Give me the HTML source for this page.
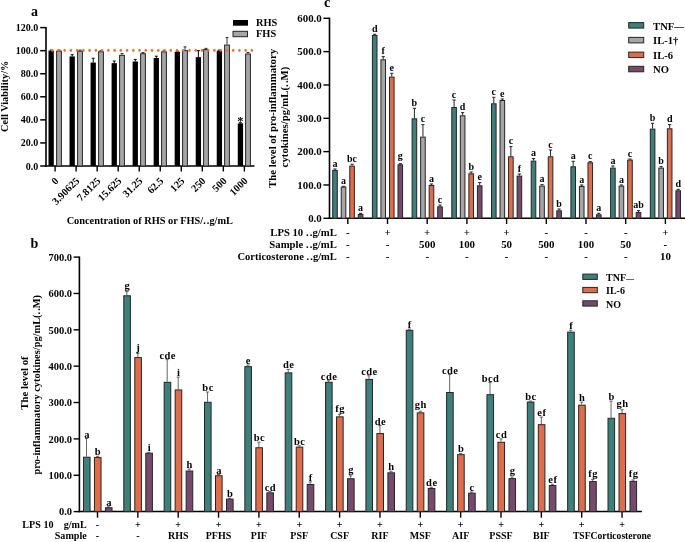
<!DOCTYPE html>
<html><head><meta charset="utf-8"><style>
html,body{margin:0;padding:0;background:#fff;width:685px;height:542px;overflow:hidden}
svg{display:block;will-change:transform}
text{font-family:"Liberation Serif", serif;font-weight:bold;fill:#000}
</style></head><body>
<svg width="685" height="542" viewBox="0 0 685 542">
<text x="31.00" y="16.00" font-size="14" text-anchor="start" >a</text>
<line x1="46.00" y1="27.00" x2="46.00" y2="166.75" stroke="#000" stroke-width="1.6"/>
<line x1="40.20" y1="166.00" x2="46.00" y2="166.00" stroke="#000" stroke-width="1.5"/>
<text x="38.20" y="169.50" font-size="10" text-anchor="end" >0.0</text>
<line x1="40.20" y1="142.93" x2="46.00" y2="142.93" stroke="#000" stroke-width="1.5"/>
<text x="38.20" y="146.43" font-size="10" text-anchor="end" >20.0</text>
<line x1="40.20" y1="119.87" x2="46.00" y2="119.87" stroke="#000" stroke-width="1.5"/>
<text x="38.20" y="123.37" font-size="10" text-anchor="end" >40.0</text>
<line x1="40.20" y1="96.80" x2="46.00" y2="96.80" stroke="#000" stroke-width="1.5"/>
<text x="38.20" y="100.30" font-size="10" text-anchor="end" >60.0</text>
<line x1="40.20" y1="73.74" x2="46.00" y2="73.74" stroke="#000" stroke-width="1.5"/>
<text x="38.20" y="77.24" font-size="10" text-anchor="end" >80.0</text>
<line x1="40.20" y1="50.67" x2="46.00" y2="50.67" stroke="#000" stroke-width="1.5"/>
<text x="38.20" y="54.17" font-size="10" text-anchor="end" >100.0</text>
<line x1="40.20" y1="27.60" x2="46.00" y2="27.60" stroke="#000" stroke-width="1.5"/>
<text x="38.20" y="31.10" font-size="10" text-anchor="end" >120.0</text>
<line x1="45.20" y1="166.00" x2="254.50" y2="166.00" stroke="#000" stroke-width="1.5"/>
<line x1="55.10" y1="166.00" x2="55.10" y2="171.50" stroke="#000" stroke-width="1.4"/>
<line x1="51.15" y1="50.09" x2="51.15" y2="50.67" stroke="#000" stroke-width="1"/>
<line x1="49.65" y1="50.09" x2="52.65" y2="50.09" stroke="#000" stroke-width="1"/>
<rect x="48.50" y="50.67" width="5.30" height="115.33" fill="#000"/>
<line x1="59.00" y1="50.09" x2="59.00" y2="50.67" stroke="#333" stroke-width="1"/>
<line x1="57.50" y1="50.09" x2="60.50" y2="50.09" stroke="#333" stroke-width="1"/>
<rect x="56.60" y="51.17" width="4.80" height="114.83" fill="#a6a6a9" stroke="#262626" stroke-width="1"/>
<text x="59.10" y="181.50" font-size="10.4" text-anchor="end" transform="rotate(-45 59.10 181.50)">0</text>
<line x1="76.13" y1="166.00" x2="76.13" y2="171.50" stroke="#000" stroke-width="1.4"/>
<line x1="72.18" y1="54.71" x2="72.18" y2="56.44" stroke="#000" stroke-width="1"/>
<line x1="70.68" y1="54.71" x2="73.68" y2="54.71" stroke="#000" stroke-width="1"/>
<rect x="69.53" y="56.44" width="5.30" height="109.56" fill="#000"/>
<line x1="80.00" y1="50.09" x2="80.00" y2="50.67" stroke="#333" stroke-width="1"/>
<line x1="78.50" y1="50.09" x2="81.50" y2="50.09" stroke="#333" stroke-width="1"/>
<rect x="77.60" y="51.17" width="4.80" height="114.83" fill="#a6a6a9" stroke="#262626" stroke-width="1"/>
<text x="80.13" y="181.50" font-size="10.4" text-anchor="end" transform="rotate(-45 80.13 181.50)">3.90625</text>
<line x1="97.16" y1="166.00" x2="97.16" y2="171.50" stroke="#000" stroke-width="1.4"/>
<line x1="93.21" y1="58.28" x2="93.21" y2="62.55" stroke="#000" stroke-width="1"/>
<line x1="91.71" y1="58.28" x2="94.71" y2="58.28" stroke="#000" stroke-width="1"/>
<rect x="90.56" y="62.55" width="5.30" height="103.45" fill="#000"/>
<line x1="101.00" y1="50.67" x2="101.00" y2="51.25" stroke="#333" stroke-width="1"/>
<line x1="99.50" y1="50.67" x2="102.50" y2="50.67" stroke="#333" stroke-width="1"/>
<rect x="98.60" y="51.75" width="4.80" height="114.25" fill="#a6a6a9" stroke="#262626" stroke-width="1"/>
<text x="101.16" y="181.50" font-size="10.4" text-anchor="end" transform="rotate(-45 101.16 181.50)">7.8125</text>
<line x1="118.19" y1="166.00" x2="118.19" y2="171.50" stroke="#000" stroke-width="1.4"/>
<line x1="114.24" y1="61.05" x2="114.24" y2="63.13" stroke="#000" stroke-width="1"/>
<line x1="112.74" y1="61.05" x2="115.74" y2="61.05" stroke="#000" stroke-width="1"/>
<rect x="111.59" y="63.13" width="5.30" height="102.87" fill="#000"/>
<line x1="122.00" y1="53.55" x2="122.00" y2="54.82" stroke="#333" stroke-width="1"/>
<line x1="120.50" y1="53.55" x2="123.50" y2="53.55" stroke="#333" stroke-width="1"/>
<rect x="119.60" y="55.32" width="4.80" height="110.68" fill="#a6a6a9" stroke="#262626" stroke-width="1"/>
<text x="122.19" y="181.50" font-size="10.4" text-anchor="end" transform="rotate(-45 122.19 181.50)">15.625</text>
<line x1="139.22" y1="166.00" x2="139.22" y2="171.50" stroke="#000" stroke-width="1.4"/>
<line x1="135.27" y1="59.44" x2="135.27" y2="61.51" stroke="#000" stroke-width="1"/>
<line x1="133.77" y1="59.44" x2="136.77" y2="59.44" stroke="#000" stroke-width="1"/>
<rect x="132.62" y="61.51" width="5.30" height="104.49" fill="#000"/>
<line x1="143.00" y1="52.52" x2="143.00" y2="53.21" stroke="#333" stroke-width="1"/>
<line x1="141.50" y1="52.52" x2="144.50" y2="52.52" stroke="#333" stroke-width="1"/>
<rect x="140.60" y="53.71" width="4.80" height="112.29" fill="#a6a6a9" stroke="#262626" stroke-width="1"/>
<text x="143.22" y="181.50" font-size="10.4" text-anchor="end" transform="rotate(-45 143.22 181.50)">31.25</text>
<line x1="160.25" y1="166.00" x2="160.25" y2="171.50" stroke="#000" stroke-width="1.4"/>
<line x1="156.30" y1="56.21" x2="156.30" y2="58.05" stroke="#000" stroke-width="1"/>
<line x1="154.80" y1="56.21" x2="157.80" y2="56.21" stroke="#000" stroke-width="1"/>
<rect x="153.65" y="58.05" width="5.30" height="107.95" fill="#000"/>
<line x1="164.00" y1="50.67" x2="164.00" y2="51.36" stroke="#333" stroke-width="1"/>
<line x1="162.50" y1="50.67" x2="165.50" y2="50.67" stroke="#333" stroke-width="1"/>
<rect x="161.60" y="51.86" width="4.80" height="114.14" fill="#a6a6a9" stroke="#262626" stroke-width="1"/>
<text x="164.25" y="181.50" font-size="10.4" text-anchor="end" transform="rotate(-45 164.25 181.50)">62.5</text>
<line x1="181.28" y1="166.00" x2="181.28" y2="171.50" stroke="#000" stroke-width="1.4"/>
<line x1="177.33" y1="51.13" x2="177.33" y2="51.82" stroke="#000" stroke-width="1"/>
<line x1="175.83" y1="51.13" x2="178.83" y2="51.13" stroke="#000" stroke-width="1"/>
<rect x="174.68" y="51.82" width="5.30" height="114.18" fill="#000"/>
<line x1="185.00" y1="46.86" x2="185.00" y2="50.09" stroke="#333" stroke-width="1"/>
<line x1="183.50" y1="46.86" x2="186.50" y2="46.86" stroke="#333" stroke-width="1"/>
<rect x="182.60" y="50.59" width="4.80" height="115.41" fill="#a6a6a9" stroke="#262626" stroke-width="1"/>
<text x="185.28" y="181.50" font-size="10.4" text-anchor="end" transform="rotate(-45 185.28 181.50)">125</text>
<line x1="202.31" y1="166.00" x2="202.31" y2="171.50" stroke="#000" stroke-width="1.4"/>
<line x1="198.36" y1="50.67" x2="198.36" y2="57.13" stroke="#000" stroke-width="1"/>
<line x1="196.86" y1="50.67" x2="199.86" y2="50.67" stroke="#000" stroke-width="1"/>
<rect x="195.71" y="57.13" width="5.30" height="108.87" fill="#000"/>
<line x1="206.00" y1="48.36" x2="206.00" y2="49.06" stroke="#333" stroke-width="1"/>
<line x1="204.50" y1="48.36" x2="207.50" y2="48.36" stroke="#333" stroke-width="1"/>
<rect x="203.60" y="49.56" width="4.80" height="116.44" fill="#a6a6a9" stroke="#262626" stroke-width="1"/>
<text x="206.31" y="181.50" font-size="10.4" text-anchor="end" transform="rotate(-45 206.31 181.50)">250</text>
<line x1="223.34" y1="166.00" x2="223.34" y2="171.50" stroke="#000" stroke-width="1.4"/>
<line x1="219.39" y1="50.09" x2="219.39" y2="50.67" stroke="#000" stroke-width="1"/>
<line x1="217.89" y1="50.09" x2="220.89" y2="50.09" stroke="#000" stroke-width="1"/>
<rect x="216.74" y="50.67" width="5.30" height="115.33" fill="#000"/>
<line x1="227.00" y1="37.52" x2="227.00" y2="44.56" stroke="#333" stroke-width="1"/>
<line x1="225.50" y1="37.52" x2="228.50" y2="37.52" stroke="#333" stroke-width="1"/>
<rect x="224.60" y="45.06" width="4.80" height="120.94" fill="#a6a6a9" stroke="#262626" stroke-width="1"/>
<text x="227.34" y="181.50" font-size="10.4" text-anchor="end" transform="rotate(-45 227.34 181.50)">500</text>
<line x1="244.37" y1="166.00" x2="244.37" y2="171.50" stroke="#000" stroke-width="1.4"/>
<line x1="240.42" y1="122.75" x2="240.42" y2="123.33" stroke="#000" stroke-width="1"/>
<line x1="238.92" y1="122.75" x2="241.92" y2="122.75" stroke="#000" stroke-width="1"/>
<rect x="237.77" y="123.33" width="5.30" height="42.67" fill="#000"/>
<line x1="248.00" y1="52.52" x2="248.00" y2="53.55" stroke="#333" stroke-width="1"/>
<line x1="246.50" y1="52.52" x2="249.50" y2="52.52" stroke="#333" stroke-width="1"/>
<rect x="245.60" y="54.05" width="4.80" height="111.95" fill="#a6a6a9" stroke="#262626" stroke-width="1"/>
<text x="248.37" y="181.50" font-size="10.4" text-anchor="end" transform="rotate(-45 248.37 181.50)">1000</text>
<circle cx="52.20" cy="50.4" r="1.3" fill="#f26d21"/>
<circle cx="58.44" cy="50.4" r="1.3" fill="#f26d21"/>
<circle cx="64.68" cy="50.4" r="1.3" fill="#f26d21"/>
<circle cx="70.92" cy="50.4" r="1.3" fill="#f26d21"/>
<circle cx="77.16" cy="50.4" r="1.3" fill="#f26d21"/>
<circle cx="83.40" cy="50.4" r="1.3" fill="#f26d21"/>
<circle cx="89.64" cy="50.4" r="1.3" fill="#f26d21"/>
<circle cx="95.88" cy="50.4" r="1.3" fill="#f26d21"/>
<circle cx="102.12" cy="50.4" r="1.3" fill="#f26d21"/>
<circle cx="108.36" cy="50.4" r="1.3" fill="#f26d21"/>
<circle cx="114.60" cy="50.4" r="1.3" fill="#f26d21"/>
<circle cx="120.84" cy="50.4" r="1.3" fill="#f26d21"/>
<circle cx="127.08" cy="50.4" r="1.3" fill="#f26d21"/>
<circle cx="133.32" cy="50.4" r="1.3" fill="#f26d21"/>
<circle cx="139.56" cy="50.4" r="1.3" fill="#f26d21"/>
<circle cx="145.80" cy="50.4" r="1.3" fill="#f26d21"/>
<circle cx="152.04" cy="50.4" r="1.3" fill="#f26d21"/>
<circle cx="158.28" cy="50.4" r="1.3" fill="#f26d21"/>
<circle cx="164.52" cy="50.4" r="1.3" fill="#f26d21"/>
<circle cx="170.76" cy="50.4" r="1.3" fill="#f26d21"/>
<circle cx="177.00" cy="50.4" r="1.3" fill="#f26d21"/>
<circle cx="183.24" cy="50.4" r="1.3" fill="#f26d21"/>
<circle cx="189.48" cy="50.4" r="1.3" fill="#f26d21"/>
<circle cx="195.72" cy="50.4" r="1.3" fill="#f26d21"/>
<circle cx="201.96" cy="50.4" r="1.3" fill="#f26d21"/>
<circle cx="208.20" cy="50.4" r="1.3" fill="#f26d21"/>
<circle cx="214.44" cy="50.4" r="1.3" fill="#f26d21"/>
<circle cx="220.68" cy="50.4" r="1.3" fill="#f26d21"/>
<circle cx="226.92" cy="50.4" r="1.3" fill="#f26d21"/>
<circle cx="233.16" cy="50.4" r="1.3" fill="#f26d21"/>
<circle cx="239.40" cy="50.4" r="1.3" fill="#f26d21"/>
<circle cx="245.64" cy="50.4" r="1.3" fill="#f26d21"/>
<circle cx="251.88" cy="50.4" r="1.3" fill="#f26d21"/>
<text x="240.40" y="124.80" font-size="12.5" text-anchor="middle" >*</text>
<text x="149.80" y="224.00" font-size="10.35" text-anchor="middle" >Concentration of RHS or FHS/.<tspan dx="1">.</tspan>g/mL</text>
<text x="0" y="0" font-size="10.3" text-anchor="middle" transform="translate(7.5 96.3) rotate(-90)">Cell Viability/%</text>
<rect x="233.00" y="20.00" width="15.00" height="5.70" fill="#000"/>
<rect x="233.00" y="31.30" width="14.50" height="5.40" fill="#a6a6a9" stroke="#262626" stroke-width="1"/>
<text x="256.00" y="26.40" font-size="10.4" text-anchor="start" >RHS</text>
<text x="256.00" y="37.40" font-size="10.4" text-anchor="start" >FHS</text>
<text x="324.00" y="7.40" font-size="14.5" text-anchor="start" >c</text>
<line x1="329.50" y1="17.60" x2="329.50" y2="219.05" stroke="#000" stroke-width="1.6"/>
<line x1="323.40" y1="218.30" x2="329.50" y2="218.30" stroke="#000" stroke-width="1.4"/>
<text x="321.80" y="222.10" font-size="10.9" text-anchor="end" >0.0</text>
<line x1="323.40" y1="184.97" x2="329.50" y2="184.97" stroke="#000" stroke-width="1.4"/>
<text x="321.80" y="188.77" font-size="10.9" text-anchor="end" >100.0</text>
<line x1="323.40" y1="151.63" x2="329.50" y2="151.63" stroke="#000" stroke-width="1.4"/>
<text x="321.80" y="155.43" font-size="10.9" text-anchor="end" >200.0</text>
<line x1="323.40" y1="118.30" x2="329.50" y2="118.30" stroke="#000" stroke-width="1.4"/>
<text x="321.80" y="122.10" font-size="10.9" text-anchor="end" >300.0</text>
<line x1="323.40" y1="84.97" x2="329.50" y2="84.97" stroke="#000" stroke-width="1.4"/>
<text x="321.80" y="88.77" font-size="10.9" text-anchor="end" >400.0</text>
<line x1="323.40" y1="51.63" x2="329.50" y2="51.63" stroke="#000" stroke-width="1.4"/>
<text x="321.80" y="55.43" font-size="10.9" text-anchor="end" >500.0</text>
<line x1="323.40" y1="18.30" x2="329.50" y2="18.30" stroke="#000" stroke-width="1.4"/>
<text x="321.80" y="22.10" font-size="10.9" text-anchor="end" >600.0</text>
<line x1="328.70" y1="218.30" x2="685.00" y2="218.30" stroke="#000" stroke-width="1.5"/>
<line x1="347.80" y1="218.30" x2="347.80" y2="224.00" stroke="#000" stroke-width="1.4"/>
<line x1="335.00" y1="168.97" x2="335.00" y2="169.97" stroke="#222" stroke-width="1"/>
<line x1="333.40" y1="168.97" x2="336.60" y2="168.97" stroke="#222" stroke-width="1"/>
<rect x="332.70" y="170.47" width="4.60" height="47.83" fill="#3e7e7b" stroke="#262626" stroke-width="1"/>
<text x="335.00" y="166.77" font-size="10" text-anchor="middle" >a</text>
<line x1="343.53" y1="186.30" x2="343.53" y2="186.63" stroke="#222" stroke-width="1"/>
<line x1="341.93" y1="186.30" x2="345.13" y2="186.30" stroke="#222" stroke-width="1"/>
<rect x="341.23" y="187.13" width="4.60" height="31.17" fill="#a6a6a9" stroke="#262626" stroke-width="1"/>
<text x="343.53" y="184.10" font-size="10" text-anchor="middle" >a</text>
<line x1="352.07" y1="164.30" x2="352.07" y2="165.63" stroke="#222" stroke-width="1"/>
<line x1="350.47" y1="164.30" x2="353.67" y2="164.30" stroke="#222" stroke-width="1"/>
<rect x="349.77" y="166.13" width="4.60" height="52.17" fill="#df6d4b" stroke="#262626" stroke-width="1"/>
<text x="352.07" y="162.10" font-size="10" text-anchor="middle" >bc</text>
<line x1="360.60" y1="213.30" x2="360.60" y2="213.97" stroke="#222" stroke-width="1"/>
<line x1="359.00" y1="213.30" x2="362.20" y2="213.30" stroke="#222" stroke-width="1"/>
<rect x="358.30" y="214.47" width="4.60" height="3.83" fill="#764a6d" stroke="#262626" stroke-width="1"/>
<text x="360.60" y="211.10" font-size="10" text-anchor="middle" >a</text>
<text x="347.80" y="236.00" font-size="10.9" text-anchor="middle" >-</text>
<text x="347.80" y="247.70" font-size="10.9" text-anchor="middle" >-</text>
<text x="347.80" y="260.00" font-size="10.9" text-anchor="middle" >-</text>
<line x1="387.50" y1="218.30" x2="387.50" y2="224.00" stroke="#000" stroke-width="1.4"/>
<line x1="374.70" y1="34.30" x2="374.70" y2="34.97" stroke="#222" stroke-width="1"/>
<line x1="373.10" y1="34.30" x2="376.30" y2="34.30" stroke="#222" stroke-width="1"/>
<rect x="372.40" y="35.47" width="4.60" height="182.83" fill="#3e7e7b" stroke="#262626" stroke-width="1"/>
<text x="374.70" y="32.10" font-size="10" text-anchor="middle" >d</text>
<line x1="383.23" y1="56.63" x2="383.23" y2="59.30" stroke="#222" stroke-width="1"/>
<line x1="381.63" y1="56.63" x2="384.83" y2="56.63" stroke="#222" stroke-width="1"/>
<rect x="380.93" y="59.80" width="4.60" height="158.50" fill="#a6a6a9" stroke="#262626" stroke-width="1"/>
<text x="383.23" y="54.43" font-size="10" text-anchor="middle" >f</text>
<line x1="391.77" y1="73.30" x2="391.77" y2="76.63" stroke="#222" stroke-width="1"/>
<line x1="390.17" y1="73.30" x2="393.37" y2="73.30" stroke="#222" stroke-width="1"/>
<rect x="389.47" y="77.13" width="4.60" height="141.17" fill="#df6d4b" stroke="#262626" stroke-width="1"/>
<text x="391.77" y="71.10" font-size="10" text-anchor="middle" >e</text>
<line x1="400.30" y1="163.63" x2="400.30" y2="164.30" stroke="#222" stroke-width="1"/>
<line x1="398.70" y1="163.63" x2="401.90" y2="163.63" stroke="#222" stroke-width="1"/>
<rect x="398.00" y="164.80" width="4.60" height="53.50" fill="#764a6d" stroke="#262626" stroke-width="1"/>
<text x="400.30" y="159.23" font-size="10" text-anchor="middle" >g</text>
<text x="387.50" y="236.00" font-size="10.9" text-anchor="middle" >+</text>
<text x="387.50" y="247.70" font-size="10.9" text-anchor="middle" >-</text>
<text x="387.50" y="260.00" font-size="10.9" text-anchor="middle" >-</text>
<line x1="427.20" y1="218.30" x2="427.20" y2="224.00" stroke="#000" stroke-width="1.4"/>
<line x1="414.40" y1="108.30" x2="414.40" y2="118.30" stroke="#222" stroke-width="1"/>
<line x1="412.80" y1="108.30" x2="416.00" y2="108.30" stroke="#222" stroke-width="1"/>
<rect x="412.10" y="118.80" width="4.60" height="99.50" fill="#3e7e7b" stroke="#262626" stroke-width="1"/>
<text x="414.40" y="106.10" font-size="10" text-anchor="middle" >b</text>
<line x1="422.93" y1="124.63" x2="422.93" y2="136.63" stroke="#222" stroke-width="1"/>
<line x1="421.33" y1="124.63" x2="424.53" y2="124.63" stroke="#222" stroke-width="1"/>
<rect x="420.63" y="137.13" width="4.60" height="81.17" fill="#a6a6a9" stroke="#262626" stroke-width="1"/>
<text x="422.93" y="122.43" font-size="10" text-anchor="middle" >c</text>
<line x1="431.47" y1="183.97" x2="431.47" y2="184.97" stroke="#222" stroke-width="1"/>
<line x1="429.87" y1="183.97" x2="433.07" y2="183.97" stroke="#222" stroke-width="1"/>
<rect x="429.17" y="185.47" width="4.60" height="32.83" fill="#df6d4b" stroke="#262626" stroke-width="1"/>
<text x="431.47" y="181.77" font-size="10" text-anchor="middle" >a</text>
<line x1="440.00" y1="204.97" x2="440.00" y2="206.30" stroke="#222" stroke-width="1"/>
<line x1="438.40" y1="204.97" x2="441.60" y2="204.97" stroke="#222" stroke-width="1"/>
<rect x="437.70" y="206.80" width="4.60" height="11.50" fill="#764a6d" stroke="#262626" stroke-width="1"/>
<text x="440.00" y="202.77" font-size="10" text-anchor="middle" >c</text>
<text x="427.20" y="236.00" font-size="10.9" text-anchor="middle" >+</text>
<text x="427.20" y="247.70" font-size="10.9" text-anchor="middle" >500</text>
<text x="427.20" y="260.00" font-size="10.9" text-anchor="middle" >-</text>
<line x1="466.90" y1="218.30" x2="466.90" y2="224.00" stroke="#000" stroke-width="1.4"/>
<line x1="454.10" y1="99.97" x2="454.10" y2="106.97" stroke="#222" stroke-width="1"/>
<line x1="452.50" y1="99.97" x2="455.70" y2="99.97" stroke="#222" stroke-width="1"/>
<rect x="451.80" y="107.47" width="4.60" height="110.83" fill="#3e7e7b" stroke="#262626" stroke-width="1"/>
<text x="454.10" y="97.77" font-size="10" text-anchor="middle" >c</text>
<line x1="462.63" y1="112.63" x2="462.63" y2="115.30" stroke="#222" stroke-width="1"/>
<line x1="461.03" y1="112.63" x2="464.23" y2="112.63" stroke="#222" stroke-width="1"/>
<rect x="460.33" y="115.80" width="4.60" height="102.50" fill="#a6a6a9" stroke="#262626" stroke-width="1"/>
<text x="462.63" y="110.43" font-size="10" text-anchor="middle" >d</text>
<line x1="471.17" y1="171.97" x2="471.17" y2="173.30" stroke="#222" stroke-width="1"/>
<line x1="469.57" y1="171.97" x2="472.77" y2="171.97" stroke="#222" stroke-width="1"/>
<rect x="468.87" y="173.80" width="4.60" height="44.50" fill="#df6d4b" stroke="#262626" stroke-width="1"/>
<text x="471.17" y="169.77" font-size="10" text-anchor="middle" >b</text>
<line x1="479.70" y1="182.63" x2="479.70" y2="185.30" stroke="#222" stroke-width="1"/>
<line x1="478.10" y1="182.63" x2="481.30" y2="182.63" stroke="#222" stroke-width="1"/>
<rect x="477.40" y="185.80" width="4.60" height="32.50" fill="#764a6d" stroke="#262626" stroke-width="1"/>
<text x="479.70" y="180.43" font-size="10" text-anchor="middle" >e</text>
<text x="466.90" y="236.00" font-size="10.9" text-anchor="middle" >+</text>
<text x="466.90" y="247.70" font-size="10.9" text-anchor="middle" >100</text>
<text x="466.90" y="260.00" font-size="10.9" text-anchor="middle" >-</text>
<line x1="506.60" y1="218.30" x2="506.60" y2="224.00" stroke="#000" stroke-width="1.4"/>
<line x1="493.80" y1="97.30" x2="493.80" y2="103.30" stroke="#222" stroke-width="1"/>
<line x1="492.20" y1="97.30" x2="495.40" y2="97.30" stroke="#222" stroke-width="1"/>
<rect x="491.50" y="103.80" width="4.60" height="114.50" fill="#3e7e7b" stroke="#262626" stroke-width="1"/>
<text x="493.80" y="95.10" font-size="10" text-anchor="middle" >c</text>
<line x1="502.33" y1="98.97" x2="502.33" y2="99.97" stroke="#222" stroke-width="1"/>
<line x1="500.73" y1="98.97" x2="503.93" y2="98.97" stroke="#222" stroke-width="1"/>
<rect x="500.03" y="100.47" width="4.60" height="117.83" fill="#a6a6a9" stroke="#262626" stroke-width="1"/>
<text x="502.33" y="96.77" font-size="10" text-anchor="middle" >e</text>
<line x1="510.87" y1="146.63" x2="510.87" y2="156.30" stroke="#222" stroke-width="1"/>
<line x1="509.27" y1="146.63" x2="512.47" y2="146.63" stroke="#222" stroke-width="1"/>
<rect x="508.57" y="156.80" width="4.60" height="61.50" fill="#df6d4b" stroke="#262626" stroke-width="1"/>
<text x="510.87" y="144.43" font-size="10" text-anchor="middle" >c</text>
<line x1="519.40" y1="173.97" x2="519.40" y2="175.63" stroke="#222" stroke-width="1"/>
<line x1="517.80" y1="173.97" x2="521.00" y2="173.97" stroke="#222" stroke-width="1"/>
<rect x="517.10" y="176.13" width="4.60" height="42.17" fill="#764a6d" stroke="#262626" stroke-width="1"/>
<text x="519.40" y="171.77" font-size="10" text-anchor="middle" >f</text>
<text x="506.60" y="236.00" font-size="10.9" text-anchor="middle" >+</text>
<text x="506.60" y="247.70" font-size="10.9" text-anchor="middle" >50</text>
<text x="506.60" y="260.00" font-size="10.9" text-anchor="middle" >-</text>
<line x1="546.30" y1="218.30" x2="546.30" y2="224.00" stroke="#000" stroke-width="1.4"/>
<line x1="533.50" y1="158.63" x2="533.50" y2="160.63" stroke="#222" stroke-width="1"/>
<line x1="531.90" y1="158.63" x2="535.10" y2="158.63" stroke="#222" stroke-width="1"/>
<rect x="531.20" y="161.13" width="4.60" height="57.17" fill="#3e7e7b" stroke="#262626" stroke-width="1"/>
<text x="533.50" y="156.43" font-size="10" text-anchor="middle" >a</text>
<line x1="542.03" y1="184.63" x2="542.03" y2="185.63" stroke="#222" stroke-width="1"/>
<line x1="540.43" y1="184.63" x2="543.63" y2="184.63" stroke="#222" stroke-width="1"/>
<rect x="539.73" y="186.13" width="4.60" height="32.17" fill="#a6a6a9" stroke="#262626" stroke-width="1"/>
<text x="542.03" y="182.43" font-size="10" text-anchor="middle" >a</text>
<line x1="550.57" y1="149.97" x2="550.57" y2="156.30" stroke="#222" stroke-width="1"/>
<line x1="548.97" y1="149.97" x2="552.17" y2="149.97" stroke="#222" stroke-width="1"/>
<rect x="548.27" y="156.80" width="4.60" height="61.50" fill="#df6d4b" stroke="#262626" stroke-width="1"/>
<text x="550.57" y="147.77" font-size="10" text-anchor="middle" >c</text>
<line x1="559.10" y1="208.97" x2="559.10" y2="210.30" stroke="#222" stroke-width="1"/>
<line x1="557.50" y1="208.97" x2="560.70" y2="208.97" stroke="#222" stroke-width="1"/>
<rect x="556.80" y="210.80" width="4.60" height="7.50" fill="#764a6d" stroke="#262626" stroke-width="1"/>
<text x="559.10" y="206.77" font-size="10" text-anchor="middle" >b</text>
<text x="546.30" y="236.00" font-size="10.9" text-anchor="middle" >-</text>
<text x="546.30" y="247.70" font-size="10.9" text-anchor="middle" >500</text>
<text x="546.30" y="260.00" font-size="10.9" text-anchor="middle" >-</text>
<line x1="586.00" y1="218.30" x2="586.00" y2="224.00" stroke="#000" stroke-width="1.4"/>
<line x1="573.20" y1="161.30" x2="573.20" y2="166.30" stroke="#222" stroke-width="1"/>
<line x1="571.60" y1="161.30" x2="574.80" y2="161.30" stroke="#222" stroke-width="1"/>
<rect x="570.90" y="166.80" width="4.60" height="51.50" fill="#3e7e7b" stroke="#262626" stroke-width="1"/>
<text x="573.20" y="159.10" font-size="10" text-anchor="middle" >a</text>
<line x1="581.73" y1="184.97" x2="581.73" y2="185.97" stroke="#222" stroke-width="1"/>
<line x1="580.13" y1="184.97" x2="583.33" y2="184.97" stroke="#222" stroke-width="1"/>
<rect x="579.43" y="186.47" width="4.60" height="31.83" fill="#a6a6a9" stroke="#262626" stroke-width="1"/>
<text x="581.73" y="182.77" font-size="10" text-anchor="middle" >a</text>
<line x1="590.27" y1="161.63" x2="590.27" y2="162.30" stroke="#222" stroke-width="1"/>
<line x1="588.67" y1="161.63" x2="591.87" y2="161.63" stroke="#222" stroke-width="1"/>
<rect x="587.97" y="162.80" width="4.60" height="55.50" fill="#df6d4b" stroke="#262626" stroke-width="1"/>
<text x="590.27" y="159.43" font-size="10" text-anchor="middle" >c</text>
<line x1="598.80" y1="213.30" x2="598.80" y2="214.30" stroke="#222" stroke-width="1"/>
<line x1="597.20" y1="213.30" x2="600.40" y2="213.30" stroke="#222" stroke-width="1"/>
<rect x="596.50" y="214.80" width="4.60" height="3.50" fill="#764a6d" stroke="#262626" stroke-width="1"/>
<text x="598.80" y="211.10" font-size="10" text-anchor="middle" >a</text>
<text x="586.00" y="236.00" font-size="10.9" text-anchor="middle" >-</text>
<text x="586.00" y="247.70" font-size="10.9" text-anchor="middle" >100</text>
<text x="586.00" y="260.00" font-size="10.9" text-anchor="middle" >-</text>
<line x1="625.70" y1="218.30" x2="625.70" y2="224.00" stroke="#000" stroke-width="1.4"/>
<line x1="612.90" y1="165.97" x2="612.90" y2="167.63" stroke="#222" stroke-width="1"/>
<line x1="611.30" y1="165.97" x2="614.50" y2="165.97" stroke="#222" stroke-width="1"/>
<rect x="610.60" y="168.13" width="4.60" height="50.17" fill="#3e7e7b" stroke="#262626" stroke-width="1"/>
<text x="612.90" y="163.77" font-size="10" text-anchor="middle" >a</text>
<line x1="621.43" y1="184.97" x2="621.43" y2="185.63" stroke="#222" stroke-width="1"/>
<line x1="619.83" y1="184.97" x2="623.03" y2="184.97" stroke="#222" stroke-width="1"/>
<rect x="619.13" y="186.13" width="4.60" height="32.17" fill="#a6a6a9" stroke="#262626" stroke-width="1"/>
<text x="621.43" y="182.77" font-size="10" text-anchor="middle" >a</text>
<line x1="629.97" y1="158.97" x2="629.97" y2="159.63" stroke="#222" stroke-width="1"/>
<line x1="628.37" y1="158.97" x2="631.57" y2="158.97" stroke="#222" stroke-width="1"/>
<rect x="627.67" y="160.13" width="4.60" height="58.17" fill="#df6d4b" stroke="#262626" stroke-width="1"/>
<text x="629.97" y="156.77" font-size="10" text-anchor="middle" >c</text>
<line x1="638.50" y1="210.63" x2="638.50" y2="211.97" stroke="#222" stroke-width="1"/>
<line x1="636.90" y1="210.63" x2="640.10" y2="210.63" stroke="#222" stroke-width="1"/>
<rect x="636.20" y="212.47" width="4.60" height="5.83" fill="#764a6d" stroke="#262626" stroke-width="1"/>
<text x="638.50" y="208.43" font-size="10" text-anchor="middle" >ab</text>
<text x="625.70" y="236.00" font-size="10.9" text-anchor="middle" >-</text>
<text x="625.70" y="247.70" font-size="10.9" text-anchor="middle" >50</text>
<text x="625.70" y="260.00" font-size="10.9" text-anchor="middle" >-</text>
<line x1="665.40" y1="218.30" x2="665.40" y2="224.00" stroke="#000" stroke-width="1.4"/>
<line x1="652.60" y1="123.30" x2="652.60" y2="128.63" stroke="#222" stroke-width="1"/>
<line x1="651.00" y1="123.30" x2="654.20" y2="123.30" stroke="#222" stroke-width="1"/>
<rect x="650.30" y="129.13" width="4.60" height="89.17" fill="#3e7e7b" stroke="#262626" stroke-width="1"/>
<text x="652.60" y="121.10" font-size="10" text-anchor="middle" >b</text>
<line x1="661.13" y1="166.63" x2="661.13" y2="167.63" stroke="#222" stroke-width="1"/>
<line x1="659.53" y1="166.63" x2="662.73" y2="166.63" stroke="#222" stroke-width="1"/>
<rect x="658.83" y="168.13" width="4.60" height="50.17" fill="#a6a6a9" stroke="#262626" stroke-width="1"/>
<text x="661.13" y="164.43" font-size="10" text-anchor="middle" >b</text>
<line x1="669.67" y1="124.63" x2="669.67" y2="128.30" stroke="#222" stroke-width="1"/>
<line x1="668.07" y1="124.63" x2="671.27" y2="124.63" stroke="#222" stroke-width="1"/>
<rect x="667.37" y="128.80" width="4.60" height="89.50" fill="#df6d4b" stroke="#262626" stroke-width="1"/>
<text x="669.67" y="122.43" font-size="10" text-anchor="middle" >d</text>
<line x1="678.20" y1="189.30" x2="678.20" y2="190.30" stroke="#222" stroke-width="1"/>
<line x1="676.60" y1="189.30" x2="679.80" y2="189.30" stroke="#222" stroke-width="1"/>
<rect x="675.90" y="190.80" width="4.60" height="27.50" fill="#764a6d" stroke="#262626" stroke-width="1"/>
<text x="678.20" y="187.10" font-size="10" text-anchor="middle" >d</text>
<text x="665.40" y="236.00" font-size="10.9" text-anchor="middle" >+</text>
<text x="665.40" y="247.70" font-size="10.9" text-anchor="middle" >-</text>
<text x="665.40" y="260.00" font-size="10.9" text-anchor="middle" >10</text>
<text x="336.80" y="236.00" font-size="10.7" text-anchor="end" >LPS 10 .<tspan dx="1.2">.</tspan>g/mL</text>
<text x="336.80" y="247.70" font-size="10.7" text-anchor="end" >Sample .<tspan dx="1.2">.</tspan>g/mL</text>
<text x="336.80" y="260.00" font-size="10.5" text-anchor="end" >Corticosterone .<tspan dx="1.2">.</tspan>g/mL</text>
<text x="0" y="0" font-size="10.8" text-anchor="middle" transform="translate(276.2 118.4) rotate(-90)">The level of pro-inflammatory</text>
<text x="0" y="0" font-size="10.8" text-anchor="middle" transform="translate(287.6 117) rotate(-90)">cytokines/pg/mL(.<tspan dx="1.2">.</tspan>M)</text>
<rect x="628.70" y="22.60" width="15.00" height="5.50" fill="#3e7e7b" stroke="#262626" stroke-width="1"/>
<text x="653.10" y="29.50" font-size="10.6" text-anchor="start" >TNF<tspan font-size="9.6">—</tspan></text>
<rect x="628.70" y="37.40" width="15.00" height="5.50" fill="#a6a6a9" stroke="#262626" stroke-width="1"/>
<text x="653.10" y="44.30" font-size="10.6" text-anchor="start" >IL-1†</text>
<rect x="628.70" y="52.10" width="15.00" height="5.50" fill="#df6d4b" stroke="#262626" stroke-width="1"/>
<text x="653.10" y="59.00" font-size="10.6" text-anchor="start" >IL-6</text>
<rect x="628.70" y="66.30" width="15.00" height="5.50" fill="#764a6d" stroke="#262626" stroke-width="1"/>
<text x="653.10" y="73.20" font-size="10.6" text-anchor="start" >NO</text>
<text x="30.40" y="248.00" font-size="14" text-anchor="start" >b</text>
<line x1="79.40" y1="256.40" x2="79.40" y2="512.35" stroke="#000" stroke-width="1.6"/>
<line x1="73.60" y1="511.60" x2="79.40" y2="511.60" stroke="#000" stroke-width="1.4"/>
<text x="72.00" y="515.40" font-size="10.5" text-anchor="end" >0.0</text>
<line x1="73.60" y1="475.24" x2="79.40" y2="475.24" stroke="#000" stroke-width="1.4"/>
<text x="72.00" y="479.04" font-size="10.5" text-anchor="end" >100.0</text>
<line x1="73.60" y1="438.89" x2="79.40" y2="438.89" stroke="#000" stroke-width="1.4"/>
<text x="72.00" y="442.69" font-size="10.5" text-anchor="end" >200.0</text>
<line x1="73.60" y1="402.53" x2="79.40" y2="402.53" stroke="#000" stroke-width="1.4"/>
<text x="72.00" y="406.33" font-size="10.5" text-anchor="end" >300.0</text>
<line x1="73.60" y1="366.17" x2="79.40" y2="366.17" stroke="#000" stroke-width="1.4"/>
<text x="72.00" y="369.97" font-size="10.5" text-anchor="end" >400.0</text>
<line x1="73.60" y1="329.81" x2="79.40" y2="329.81" stroke="#000" stroke-width="1.4"/>
<text x="72.00" y="333.61" font-size="10.5" text-anchor="end" >500.0</text>
<line x1="73.60" y1="293.46" x2="79.40" y2="293.46" stroke="#000" stroke-width="1.4"/>
<text x="72.00" y="297.26" font-size="10.5" text-anchor="end" >600.0</text>
<line x1="73.60" y1="257.10" x2="79.40" y2="257.10" stroke="#000" stroke-width="1.4"/>
<text x="72.00" y="260.90" font-size="10.5" text-anchor="end" >700.0</text>
<line x1="78.60" y1="511.60" x2="641.90" y2="511.60" stroke="#000" stroke-width="1.5"/>
<line x1="97.50" y1="511.60" x2="97.50" y2="517.70" stroke="#000" stroke-width="1.4"/>
<line x1="86.50" y1="438.52" x2="86.50" y2="456.70" stroke="#555" stroke-width="0.9"/>
<line x1="84.90" y1="438.52" x2="88.10" y2="438.52" stroke="#555" stroke-width="0.9"/>
<rect x="83.45" y="457.20" width="6.60" height="54.40" fill="#3e7e7b" stroke="#262626" stroke-width="1"/>
<text x="87.00" y="437.52" font-size="10.5" text-anchor="middle" letter-spacing="0.45">a</text>
<line x1="97.50" y1="456.34" x2="97.50" y2="457.06" stroke="#555" stroke-width="0.9"/>
<line x1="95.90" y1="456.34" x2="99.10" y2="456.34" stroke="#555" stroke-width="0.9"/>
<rect x="94.45" y="457.56" width="6.60" height="54.04" fill="#df6d4b" stroke="#262626" stroke-width="1"/>
<text x="98.00" y="455.34" font-size="10.5" text-anchor="middle" letter-spacing="0.45">b</text>
<line x1="108.50" y1="506.87" x2="108.50" y2="507.24" stroke="#555" stroke-width="0.9"/>
<line x1="106.90" y1="506.87" x2="110.10" y2="506.87" stroke="#555" stroke-width="0.9"/>
<rect x="105.45" y="507.74" width="6.60" height="3.86" fill="#764a6d" stroke="#262626" stroke-width="1"/>
<text x="109.00" y="505.87" font-size="10.5" text-anchor="middle" letter-spacing="0.45">a</text>
<text x="97.50" y="527.90" font-size="10" text-anchor="middle" >-</text>
<text x="97.50" y="539.00" font-size="10" text-anchor="middle" >-</text>
<line x1="137.85" y1="511.60" x2="137.85" y2="517.70" stroke="#000" stroke-width="1.4"/>
<line x1="126.85" y1="291.64" x2="126.85" y2="295.28" stroke="#555" stroke-width="0.9"/>
<line x1="125.25" y1="291.64" x2="128.45" y2="291.64" stroke="#555" stroke-width="0.9"/>
<rect x="123.80" y="295.78" width="6.60" height="215.82" fill="#3e7e7b" stroke="#262626" stroke-width="1"/>
<text x="127.35" y="288.84" font-size="10.5" text-anchor="middle" letter-spacing="0.45">g</text>
<line x1="137.85" y1="353.45" x2="137.85" y2="357.08" stroke="#555" stroke-width="0.9"/>
<line x1="136.25" y1="353.45" x2="139.45" y2="353.45" stroke="#555" stroke-width="0.9"/>
<rect x="134.80" y="357.58" width="6.60" height="154.02" fill="#df6d4b" stroke="#262626" stroke-width="1"/>
<text x="138.35" y="350.65" font-size="10.5" text-anchor="middle" letter-spacing="0.45">j</text>
<line x1="148.85" y1="452.34" x2="148.85" y2="452.70" stroke="#555" stroke-width="0.9"/>
<line x1="147.25" y1="452.34" x2="150.45" y2="452.34" stroke="#555" stroke-width="0.9"/>
<rect x="145.80" y="453.20" width="6.60" height="58.40" fill="#764a6d" stroke="#262626" stroke-width="1"/>
<text x="149.35" y="451.34" font-size="10.5" text-anchor="middle" letter-spacing="0.45">i</text>
<text x="137.85" y="527.90" font-size="10" text-anchor="middle" >+</text>
<text x="137.85" y="539.00" font-size="10" text-anchor="middle" >-</text>
<line x1="178.20" y1="511.60" x2="178.20" y2="517.70" stroke="#000" stroke-width="1.4"/>
<line x1="167.20" y1="359.63" x2="167.20" y2="381.81" stroke="#555" stroke-width="0.9"/>
<line x1="165.60" y1="359.63" x2="168.80" y2="359.63" stroke="#555" stroke-width="0.9"/>
<rect x="164.15" y="382.31" width="6.60" height="129.29" fill="#3e7e7b" stroke="#262626" stroke-width="1"/>
<text x="167.70" y="358.63" font-size="10.5" text-anchor="middle" letter-spacing="0.45">cde</text>
<line x1="178.20" y1="377.08" x2="178.20" y2="389.44" stroke="#555" stroke-width="0.9"/>
<line x1="176.60" y1="377.08" x2="179.80" y2="377.08" stroke="#555" stroke-width="0.9"/>
<rect x="175.15" y="389.94" width="6.60" height="121.66" fill="#df6d4b" stroke="#262626" stroke-width="1"/>
<text x="178.70" y="376.08" font-size="10.5" text-anchor="middle" letter-spacing="0.45">i</text>
<line x1="189.20" y1="469.06" x2="189.20" y2="470.52" stroke="#555" stroke-width="0.9"/>
<line x1="187.60" y1="469.06" x2="190.80" y2="469.06" stroke="#555" stroke-width="0.9"/>
<rect x="186.15" y="471.02" width="6.60" height="40.58" fill="#764a6d" stroke="#262626" stroke-width="1"/>
<text x="189.70" y="468.06" font-size="10.5" text-anchor="middle" letter-spacing="0.45">h</text>
<text x="178.20" y="527.90" font-size="10" text-anchor="middle" >+</text>
<text x="178.20" y="539.00" font-size="10" text-anchor="middle" >RHS</text>
<line x1="218.55" y1="511.60" x2="218.55" y2="517.70" stroke="#000" stroke-width="1.4"/>
<line x1="207.55" y1="391.99" x2="207.55" y2="401.80" stroke="#555" stroke-width="0.9"/>
<line x1="205.95" y1="391.99" x2="209.15" y2="391.99" stroke="#555" stroke-width="0.9"/>
<rect x="204.50" y="402.30" width="6.60" height="109.30" fill="#3e7e7b" stroke="#262626" stroke-width="1"/>
<text x="208.05" y="390.99" font-size="10.5" text-anchor="middle" letter-spacing="0.45">bc</text>
<line x1="218.55" y1="474.52" x2="218.55" y2="475.24" stroke="#555" stroke-width="0.9"/>
<line x1="216.95" y1="474.52" x2="220.15" y2="474.52" stroke="#555" stroke-width="0.9"/>
<rect x="215.50" y="475.74" width="6.60" height="35.86" fill="#df6d4b" stroke="#262626" stroke-width="1"/>
<text x="219.05" y="473.52" font-size="10.5" text-anchor="middle" letter-spacing="0.45">a</text>
<line x1="229.55" y1="498.15" x2="229.55" y2="498.62" stroke="#555" stroke-width="0.9"/>
<line x1="227.95" y1="498.15" x2="231.15" y2="498.15" stroke="#555" stroke-width="0.9"/>
<rect x="226.50" y="499.12" width="6.60" height="12.48" fill="#764a6d" stroke="#262626" stroke-width="1"/>
<text x="230.05" y="497.15" font-size="10.5" text-anchor="middle" letter-spacing="0.45">b</text>
<text x="218.55" y="527.90" font-size="10" text-anchor="middle" >+</text>
<text x="218.55" y="539.00" font-size="10" text-anchor="middle" >PFHS</text>
<line x1="258.90" y1="511.60" x2="258.90" y2="517.70" stroke="#000" stroke-width="1.4"/>
<line x1="247.90" y1="365.08" x2="247.90" y2="366.17" stroke="#555" stroke-width="0.9"/>
<line x1="246.30" y1="365.08" x2="249.50" y2="365.08" stroke="#555" stroke-width="0.9"/>
<rect x="244.85" y="366.67" width="6.60" height="144.93" fill="#3e7e7b" stroke="#262626" stroke-width="1"/>
<text x="248.40" y="364.08" font-size="10.5" text-anchor="middle" letter-spacing="0.45">e</text>
<line x1="258.90" y1="442.16" x2="258.90" y2="447.25" stroke="#555" stroke-width="0.9"/>
<line x1="257.30" y1="442.16" x2="260.50" y2="442.16" stroke="#555" stroke-width="0.9"/>
<rect x="255.85" y="447.75" width="6.60" height="63.85" fill="#df6d4b" stroke="#262626" stroke-width="1"/>
<text x="259.40" y="441.16" font-size="10.5" text-anchor="middle" letter-spacing="0.45">bc</text>
<line x1="269.90" y1="491.60" x2="269.90" y2="492.33" stroke="#555" stroke-width="0.9"/>
<line x1="268.30" y1="491.60" x2="271.50" y2="491.60" stroke="#555" stroke-width="0.9"/>
<rect x="266.85" y="492.83" width="6.60" height="18.77" fill="#764a6d" stroke="#262626" stroke-width="1"/>
<text x="270.40" y="490.60" font-size="10.5" text-anchor="middle" letter-spacing="0.45">cd</text>
<text x="258.90" y="527.90" font-size="10" text-anchor="middle" >+</text>
<text x="258.90" y="539.00" font-size="10" text-anchor="middle" >PIF</text>
<line x1="299.25" y1="511.60" x2="299.25" y2="517.70" stroke="#000" stroke-width="1.4"/>
<line x1="288.25" y1="369.44" x2="288.25" y2="372.35" stroke="#555" stroke-width="0.9"/>
<line x1="286.65" y1="369.44" x2="289.85" y2="369.44" stroke="#555" stroke-width="0.9"/>
<rect x="285.20" y="372.85" width="6.60" height="138.75" fill="#3e7e7b" stroke="#262626" stroke-width="1"/>
<text x="288.75" y="368.44" font-size="10.5" text-anchor="middle" letter-spacing="0.45">de</text>
<line x1="299.25" y1="445.79" x2="299.25" y2="446.67" stroke="#555" stroke-width="0.9"/>
<line x1="297.65" y1="445.79" x2="300.85" y2="445.79" stroke="#555" stroke-width="0.9"/>
<rect x="296.20" y="447.17" width="6.60" height="64.43" fill="#df6d4b" stroke="#262626" stroke-width="1"/>
<text x="299.75" y="444.79" font-size="10.5" text-anchor="middle" letter-spacing="0.45">bc</text>
<line x1="310.25" y1="481.93" x2="310.25" y2="483.97" stroke="#555" stroke-width="0.9"/>
<line x1="308.65" y1="481.93" x2="311.85" y2="481.93" stroke="#555" stroke-width="0.9"/>
<rect x="307.20" y="484.47" width="6.60" height="27.13" fill="#764a6d" stroke="#262626" stroke-width="1"/>
<text x="310.75" y="480.93" font-size="10.5" text-anchor="middle" letter-spacing="0.45">f</text>
<text x="299.25" y="527.90" font-size="10" text-anchor="middle" >+</text>
<text x="299.25" y="539.00" font-size="10" text-anchor="middle" >PSF</text>
<line x1="339.60" y1="511.60" x2="339.60" y2="517.70" stroke="#000" stroke-width="1.4"/>
<line x1="328.60" y1="380.71" x2="328.60" y2="381.81" stroke="#555" stroke-width="0.9"/>
<line x1="327.00" y1="380.71" x2="330.20" y2="380.71" stroke="#555" stroke-width="0.9"/>
<rect x="325.55" y="382.31" width="6.60" height="129.29" fill="#3e7e7b" stroke="#262626" stroke-width="1"/>
<text x="329.10" y="379.71" font-size="10.5" text-anchor="middle" letter-spacing="0.45">cde</text>
<line x1="339.60" y1="414.34" x2="339.60" y2="416.34" stroke="#555" stroke-width="0.9"/>
<line x1="338.00" y1="414.34" x2="341.20" y2="414.34" stroke="#555" stroke-width="0.9"/>
<rect x="336.55" y="416.84" width="6.60" height="94.76" fill="#df6d4b" stroke="#262626" stroke-width="1"/>
<text x="340.10" y="411.54" font-size="10.5" text-anchor="middle" letter-spacing="0.45">fg</text>
<line x1="350.60" y1="475.75" x2="350.60" y2="478.22" stroke="#555" stroke-width="0.9"/>
<line x1="349.00" y1="475.75" x2="352.20" y2="475.75" stroke="#555" stroke-width="0.9"/>
<rect x="347.55" y="478.72" width="6.60" height="32.88" fill="#764a6d" stroke="#262626" stroke-width="1"/>
<text x="351.10" y="472.95" font-size="10.5" text-anchor="middle" letter-spacing="0.45">g</text>
<text x="339.60" y="527.90" font-size="10" text-anchor="middle" >+</text>
<text x="339.60" y="539.00" font-size="10" text-anchor="middle" >CSF</text>
<line x1="379.95" y1="511.60" x2="379.95" y2="517.70" stroke="#000" stroke-width="1.4"/>
<line x1="368.95" y1="375.77" x2="368.95" y2="378.90" stroke="#555" stroke-width="0.9"/>
<line x1="367.35" y1="375.77" x2="370.55" y2="375.77" stroke="#555" stroke-width="0.9"/>
<rect x="365.90" y="379.40" width="6.60" height="132.20" fill="#3e7e7b" stroke="#262626" stroke-width="1"/>
<text x="369.45" y="374.77" font-size="10.5" text-anchor="middle" letter-spacing="0.45">cde</text>
<line x1="379.95" y1="425.54" x2="379.95" y2="433.07" stroke="#555" stroke-width="0.9"/>
<line x1="378.35" y1="425.54" x2="381.55" y2="425.54" stroke="#555" stroke-width="0.9"/>
<rect x="376.90" y="433.57" width="6.60" height="78.03" fill="#df6d4b" stroke="#262626" stroke-width="1"/>
<text x="380.45" y="424.54" font-size="10.5" text-anchor="middle" letter-spacing="0.45">de</text>
<line x1="390.95" y1="471.24" x2="390.95" y2="472.33" stroke="#555" stroke-width="0.9"/>
<line x1="389.35" y1="471.24" x2="392.55" y2="471.24" stroke="#555" stroke-width="0.9"/>
<rect x="387.90" y="472.83" width="6.60" height="38.77" fill="#764a6d" stroke="#262626" stroke-width="1"/>
<text x="391.45" y="470.24" font-size="10.5" text-anchor="middle" letter-spacing="0.45">h</text>
<text x="379.95" y="527.90" font-size="10" text-anchor="middle" >+</text>
<text x="379.95" y="539.00" font-size="10" text-anchor="middle" >RIF</text>
<line x1="420.30" y1="511.60" x2="420.30" y2="517.70" stroke="#000" stroke-width="1.4"/>
<line x1="409.30" y1="329.09" x2="409.30" y2="329.81" stroke="#555" stroke-width="0.9"/>
<line x1="407.70" y1="329.09" x2="410.90" y2="329.09" stroke="#555" stroke-width="0.9"/>
<rect x="406.25" y="330.31" width="6.60" height="181.29" fill="#3e7e7b" stroke="#262626" stroke-width="1"/>
<text x="409.80" y="328.09" font-size="10.5" text-anchor="middle" letter-spacing="0.45">f</text>
<line x1="420.30" y1="411.25" x2="420.30" y2="412.35" stroke="#555" stroke-width="0.9"/>
<line x1="418.70" y1="411.25" x2="421.90" y2="411.25" stroke="#555" stroke-width="0.9"/>
<rect x="417.25" y="412.85" width="6.60" height="98.75" fill="#df6d4b" stroke="#262626" stroke-width="1"/>
<text x="420.80" y="408.45" font-size="10.5" text-anchor="middle" letter-spacing="0.45">gh</text>
<line x1="431.30" y1="487.24" x2="431.30" y2="487.97" stroke="#555" stroke-width="0.9"/>
<line x1="429.70" y1="487.24" x2="432.90" y2="487.24" stroke="#555" stroke-width="0.9"/>
<rect x="428.25" y="488.47" width="6.60" height="23.13" fill="#764a6d" stroke="#262626" stroke-width="1"/>
<text x="431.80" y="486.24" font-size="10.5" text-anchor="middle" letter-spacing="0.45">de</text>
<text x="420.30" y="527.90" font-size="10" text-anchor="middle" >+</text>
<text x="420.30" y="539.00" font-size="10" text-anchor="middle" >MSF</text>
<line x1="460.65" y1="511.60" x2="460.65" y2="517.70" stroke="#000" stroke-width="1.4"/>
<line x1="449.65" y1="374.53" x2="449.65" y2="391.99" stroke="#555" stroke-width="0.9"/>
<line x1="448.05" y1="374.53" x2="451.25" y2="374.53" stroke="#555" stroke-width="0.9"/>
<rect x="446.60" y="392.49" width="6.60" height="119.12" fill="#3e7e7b" stroke="#262626" stroke-width="1"/>
<text x="450.15" y="373.53" font-size="10.5" text-anchor="middle" letter-spacing="0.45">cde</text>
<line x1="460.65" y1="453.43" x2="460.65" y2="454.16" stroke="#555" stroke-width="0.9"/>
<line x1="459.05" y1="453.43" x2="462.25" y2="453.43" stroke="#555" stroke-width="0.9"/>
<rect x="457.60" y="454.66" width="6.60" height="56.94" fill="#df6d4b" stroke="#262626" stroke-width="1"/>
<text x="461.15" y="452.43" font-size="10.5" text-anchor="middle" letter-spacing="0.45">b</text>
<line x1="471.65" y1="491.97" x2="471.65" y2="492.69" stroke="#555" stroke-width="0.9"/>
<line x1="470.05" y1="491.97" x2="473.25" y2="491.97" stroke="#555" stroke-width="0.9"/>
<rect x="468.60" y="493.19" width="6.60" height="18.41" fill="#764a6d" stroke="#262626" stroke-width="1"/>
<text x="472.15" y="490.97" font-size="10.5" text-anchor="middle" letter-spacing="0.45">c</text>
<text x="460.65" y="527.90" font-size="10" text-anchor="middle" >+</text>
<text x="460.65" y="539.00" font-size="10" text-anchor="middle" >AIF</text>
<line x1="501.00" y1="511.60" x2="501.00" y2="517.70" stroke="#000" stroke-width="1.4"/>
<line x1="490.00" y1="382.53" x2="490.00" y2="394.17" stroke="#555" stroke-width="0.9"/>
<line x1="488.40" y1="382.53" x2="491.60" y2="382.53" stroke="#555" stroke-width="0.9"/>
<rect x="486.95" y="394.67" width="6.60" height="116.93" fill="#3e7e7b" stroke="#262626" stroke-width="1"/>
<text x="490.50" y="381.53" font-size="10.5" text-anchor="middle" letter-spacing="0.45">bcd</text>
<line x1="501.00" y1="438.89" x2="501.00" y2="441.79" stroke="#555" stroke-width="0.9"/>
<line x1="499.40" y1="438.89" x2="502.60" y2="438.89" stroke="#555" stroke-width="0.9"/>
<rect x="497.95" y="442.29" width="6.60" height="69.31" fill="#df6d4b" stroke="#262626" stroke-width="1"/>
<text x="501.50" y="437.89" font-size="10.5" text-anchor="middle" letter-spacing="0.45">cd</text>
<line x1="512.00" y1="477.06" x2="512.00" y2="478.15" stroke="#555" stroke-width="0.9"/>
<line x1="510.40" y1="477.06" x2="513.60" y2="477.06" stroke="#555" stroke-width="0.9"/>
<rect x="508.95" y="478.65" width="6.60" height="32.95" fill="#764a6d" stroke="#262626" stroke-width="1"/>
<text x="512.50" y="474.26" font-size="10.5" text-anchor="middle" letter-spacing="0.45">g</text>
<text x="501.00" y="527.90" font-size="10" text-anchor="middle" >+</text>
<text x="501.00" y="539.00" font-size="10" text-anchor="middle" >PSSF</text>
<line x1="541.35" y1="511.60" x2="541.35" y2="517.70" stroke="#000" stroke-width="1.4"/>
<line x1="530.35" y1="401.07" x2="530.35" y2="401.55" stroke="#555" stroke-width="0.9"/>
<line x1="528.75" y1="401.07" x2="531.95" y2="401.07" stroke="#555" stroke-width="0.9"/>
<rect x="527.30" y="402.05" width="6.60" height="109.55" fill="#3e7e7b" stroke="#262626" stroke-width="1"/>
<text x="530.85" y="400.07" font-size="10.5" text-anchor="middle" letter-spacing="0.45">bc</text>
<line x1="541.35" y1="417.07" x2="541.35" y2="424.16" stroke="#555" stroke-width="0.9"/>
<line x1="539.75" y1="417.07" x2="542.95" y2="417.07" stroke="#555" stroke-width="0.9"/>
<rect x="538.30" y="424.66" width="6.60" height="86.94" fill="#df6d4b" stroke="#262626" stroke-width="1"/>
<text x="541.85" y="416.07" font-size="10.5" text-anchor="middle" letter-spacing="0.45">ef</text>
<line x1="552.35" y1="484.33" x2="552.35" y2="485.06" stroke="#555" stroke-width="0.9"/>
<line x1="550.75" y1="484.33" x2="553.95" y2="484.33" stroke="#555" stroke-width="0.9"/>
<rect x="549.30" y="485.56" width="6.60" height="26.04" fill="#764a6d" stroke="#262626" stroke-width="1"/>
<text x="552.85" y="483.33" font-size="10.5" text-anchor="middle" letter-spacing="0.45">ef</text>
<text x="541.35" y="527.90" font-size="10" text-anchor="middle" >+</text>
<text x="541.35" y="539.00" font-size="10" text-anchor="middle" >BIF</text>
<line x1="581.70" y1="511.60" x2="581.70" y2="517.70" stroke="#000" stroke-width="1.4"/>
<line x1="570.70" y1="330.18" x2="570.70" y2="331.63" stroke="#555" stroke-width="0.9"/>
<line x1="569.10" y1="330.18" x2="572.30" y2="330.18" stroke="#555" stroke-width="0.9"/>
<rect x="567.65" y="332.13" width="6.60" height="179.47" fill="#3e7e7b" stroke="#262626" stroke-width="1"/>
<text x="571.20" y="329.18" font-size="10.5" text-anchor="middle" letter-spacing="0.45">f</text>
<line x1="581.70" y1="402.17" x2="581.70" y2="404.71" stroke="#555" stroke-width="0.9"/>
<line x1="580.10" y1="402.17" x2="583.30" y2="402.17" stroke="#555" stroke-width="0.9"/>
<rect x="578.65" y="405.21" width="6.60" height="106.39" fill="#df6d4b" stroke="#262626" stroke-width="1"/>
<text x="582.20" y="401.17" font-size="10.5" text-anchor="middle" letter-spacing="0.45">h</text>
<line x1="592.70" y1="479.42" x2="592.70" y2="481.06" stroke="#555" stroke-width="0.9"/>
<line x1="591.10" y1="479.42" x2="594.30" y2="479.42" stroke="#555" stroke-width="0.9"/>
<rect x="589.65" y="481.56" width="6.60" height="30.04" fill="#764a6d" stroke="#262626" stroke-width="1"/>
<text x="593.20" y="476.62" font-size="10.5" text-anchor="middle" letter-spacing="0.45">fg</text>
<text x="581.70" y="527.90" font-size="10" text-anchor="middle" >+</text>
<line x1="622.05" y1="511.60" x2="622.05" y2="517.70" stroke="#000" stroke-width="1.4"/>
<line x1="611.05" y1="401.07" x2="611.05" y2="417.80" stroke="#555" stroke-width="0.9"/>
<line x1="609.45" y1="401.07" x2="612.65" y2="401.07" stroke="#555" stroke-width="0.9"/>
<rect x="608.00" y="418.30" width="6.60" height="93.30" fill="#3e7e7b" stroke="#262626" stroke-width="1"/>
<text x="611.55" y="400.07" font-size="10.5" text-anchor="middle" letter-spacing="0.45">b</text>
<line x1="622.05" y1="409.80" x2="622.05" y2="413.07" stroke="#555" stroke-width="0.9"/>
<line x1="620.45" y1="409.80" x2="623.65" y2="409.80" stroke="#555" stroke-width="0.9"/>
<rect x="619.00" y="413.57" width="6.60" height="98.03" fill="#df6d4b" stroke="#262626" stroke-width="1"/>
<text x="622.55" y="407.00" font-size="10.5" text-anchor="middle" letter-spacing="0.45">gh</text>
<line x1="633.05" y1="479.97" x2="633.05" y2="480.88" stroke="#555" stroke-width="0.9"/>
<line x1="631.45" y1="479.97" x2="634.65" y2="479.97" stroke="#555" stroke-width="0.9"/>
<rect x="630.00" y="481.38" width="6.60" height="30.22" fill="#764a6d" stroke="#262626" stroke-width="1"/>
<text x="633.55" y="477.17" font-size="10.5" text-anchor="middle" letter-spacing="0.45">fg</text>
<text x="622.05" y="527.90" font-size="10" text-anchor="middle" >+</text>
<text x="572.90" y="539.00" font-size="9.6" text-anchor="start" >TSFCorticosterone</text>
<text x="53.50" y="527.90" font-size="10.1" text-anchor="end" >LPS 10</text>
<text x="86.70" y="527.90" font-size="10.1" text-anchor="end" >g/mL</text>
<text x="86.70" y="539.00" font-size="10.1" text-anchor="end" >Sample</text>
<text x="0" y="0" font-size="10.8" text-anchor="middle" transform="translate(28 383) rotate(-90)">The level of</text>
<text x="0" y="0" font-size="10.4" text-anchor="middle" transform="translate(39.5 384.7) rotate(-90)">pro-inflammatory cytokines/pg/mL(.<tspan dx="1">.</tspan>M)</text>
<rect x="582.80" y="274.10" width="14.50" height="5.30" fill="#3e7e7b" stroke="#262626" stroke-width="1"/>
<text x="606.00" y="280.80" font-size="10" text-anchor="start" >TNF<tspan font-size="8">—</tspan></text>
<rect x="582.80" y="287.40" width="14.50" height="5.30" fill="#df6d4b" stroke="#262626" stroke-width="1"/>
<text x="606.00" y="294.10" font-size="10" text-anchor="start" >IL-6</text>
<rect x="582.80" y="300.80" width="14.50" height="5.30" fill="#764a6d" stroke="#262626" stroke-width="1"/>
<text x="606.00" y="307.50" font-size="10" text-anchor="start" >NO</text>
</svg></body></html>
